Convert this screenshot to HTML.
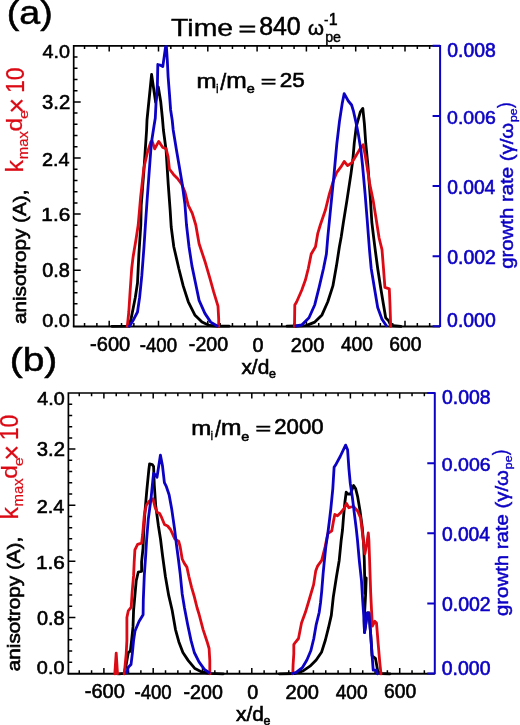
<!DOCTYPE html>
<html><head><meta charset="utf-8"><title>anisotropy plot</title>
<style>html,body{margin:0;padding:0;background:#fff;width:520px;height:725px;overflow:hidden}svg{display:block}text{font-family:"Liberation Sans", sans-serif}</style></head><body>
<svg width="520" height="725" viewBox="0 0 520 725">
<rect width="520" height="725" fill="#fff"/>
<g>
<path d="M73.7,45.8 H440.1 M73.7,45.0 V327.1" stroke="#000" stroke-width="1.7" fill="none"/>
<path d="M72.9,326.5 H440.1" stroke="#000" stroke-width="2.1" fill="none"/>
<path d="M84.55,326.3 v-3.3 M84.55,45.8 v3.3 M96.88,326.3 v-3.3 M96.88,45.8 v3.3 M109.20,326.3 v-5.6 M109.20,45.8 v5.6 M121.53,326.3 v-3.3 M121.53,45.8 v3.3 M133.85,326.3 v-3.3 M133.85,45.8 v3.3 M146.18,326.3 v-3.3 M146.18,45.8 v3.3 M158.50,326.3 v-5.6 M158.50,45.8 v5.6 M170.83,326.3 v-3.3 M170.83,45.8 v3.3 M183.15,326.3 v-3.3 M183.15,45.8 v3.3 M195.48,326.3 v-3.3 M195.48,45.8 v3.3 M207.80,326.3 v-5.6 M207.80,45.8 v5.6 M220.13,326.3 v-3.3 M220.13,45.8 v3.3 M232.45,326.3 v-3.3 M232.45,45.8 v3.3 M244.78,326.3 v-3.3 M244.78,45.8 v3.3 M257.10,326.3 v-5.6 M257.10,45.8 v5.6 M269.43,326.3 v-3.3 M269.43,45.8 v3.3 M281.75,326.3 v-3.3 M281.75,45.8 v3.3 M294.08,326.3 v-3.3 M294.08,45.8 v3.3 M306.40,326.3 v-5.6 M306.40,45.8 v5.6 M318.73,326.3 v-3.3 M318.73,45.8 v3.3 M331.05,326.3 v-3.3 M331.05,45.8 v3.3 M343.38,326.3 v-3.3 M343.38,45.8 v3.3 M355.70,326.3 v-5.6 M355.70,45.8 v5.6 M368.03,326.3 v-3.3 M368.03,45.8 v3.3 M380.35,326.3 v-3.3 M380.35,45.8 v3.3 M392.68,326.3 v-3.3 M392.68,45.8 v3.3 M405.00,326.3 v-5.6 M405.00,45.8 v5.6 M417.33,326.3 v-3.3 M417.33,45.8 v3.3 M429.65,326.3 v-3.3 M429.65,45.8 v3.3 M73.7,315.08 h3.8 M73.7,303.86 h3.8 M73.7,292.64 h3.8 M73.7,281.42 h3.8 M73.7,270.20 h7.0 M73.7,258.98 h3.8 M73.7,247.76 h3.8 M73.7,236.54 h3.8 M73.7,225.32 h3.8 M73.7,214.10 h7.0 M73.7,202.88 h3.8 M73.7,191.66 h3.8 M73.7,180.44 h3.8 M73.7,169.22 h3.8 M73.7,158.00 h7.0 M73.7,146.78 h3.8 M73.7,135.56 h3.8 M73.7,124.34 h3.8 M73.7,113.12 h3.8 M73.7,101.90 h7.0 M73.7,90.68 h3.8 M73.7,79.46 h3.8 M73.7,68.24 h3.8 M73.7,57.02 h3.8" stroke="#000" stroke-width="1.5" fill="none"/>
<path d="M440.1,45.0 V327.1 M440.1,326.30 h-7.5 M440.1,256.18 h-7.5 M440.1,186.05 h-7.5 M440.1,115.93 h-7.5 M440.1,45.80 h-7.5" stroke="#0c02c4" stroke-width="2.0" fill="none"/>
<text x="6.70" y="23.96" font-size="33.78" fill="#000" stroke="#000" stroke-width="0.5" textLength="45.99" lengthAdjust="spacingAndGlyphs">(a)</text>
<text x="9.67" y="371.14" font-size="33.78" fill="#000" stroke="#000" stroke-width="0.5" textLength="47.74" lengthAdjust="spacingAndGlyphs">(b)</text>
<text x="171.07" y="36.49" font-size="23.26" fill="#000" stroke="#000" stroke-width="0.4" textLength="62.11" lengthAdjust="spacingAndGlyphs">Time</text>
<text x="238.64" y="34.64" font-size="18.68" fill="#000" stroke="#000" stroke-width="0.6" textLength="17.69" lengthAdjust="spacingAndGlyphs">=</text>
<text x="259.17" y="35.40" font-size="25.19" fill="#000" stroke="#000" stroke-width="0.6" textLength="41.56" lengthAdjust="spacingAndGlyphs">840</text>
<text x="307.93" y="35.28" font-size="20.60" fill="#000" stroke="#000" stroke-width="0.6" textLength="15.94" lengthAdjust="spacingAndGlyphs">ω</text>
<text x="323.97" y="25.49" font-size="14.11" fill="#000" stroke="#000" stroke-width="0.3" textLength="4.49" lengthAdjust="spacingAndGlyphs">-</text>
<text x="328.76" y="24.63" font-size="15.91" fill="#000" stroke="#000" stroke-width="0.45" textLength="8.92" lengthAdjust="spacingAndGlyphs">1</text>
<text x="325.14" y="41.69" font-size="14.20" fill="#000" stroke="#000" stroke-width="0.45" textLength="15.77" lengthAdjust="spacingAndGlyphs">pe</text>
<text x="196.45" y="87.64" font-size="20.85" fill="#000" stroke="#000" stroke-width="0.6" textLength="20.06" lengthAdjust="spacingAndGlyphs">m</text>
<text x="215.91" y="92.57" font-size="13.49" fill="#000" stroke="#000" stroke-width="0.35" textLength="2.63" lengthAdjust="spacingAndGlyphs">i</text>
<text x="220.30" y="90.09" font-size="24.01" fill="#000" stroke="#000" stroke-width="0.6" textLength="5.96" lengthAdjust="spacingAndGlyphs">/</text>
<text x="226.33" y="87.85" font-size="21.62" fill="#000" stroke="#000" stroke-width="0.6" textLength="20.50" lengthAdjust="spacingAndGlyphs">m</text>
<text x="246.68" y="93.45" font-size="12.10" fill="#000" stroke="#000" stroke-width="0.55" textLength="7.99" lengthAdjust="spacingAndGlyphs">e</text>
<text x="260.81" y="86.65" font-size="17.12" fill="#000" stroke="#000" stroke-width="0.6" textLength="15.64" lengthAdjust="spacingAndGlyphs">=</text>
<text x="279.79" y="87.28" font-size="21.02" fill="#000" stroke="#000" stroke-width="0.6" textLength="25.06" lengthAdjust="spacingAndGlyphs">25</text>
<text x="42.52" y="57.53" font-size="19.24" fill="#000" stroke="#000" stroke-width="0.6" textLength="27.43" lengthAdjust="spacingAndGlyphs">4.0</text>
<text x="42.07" y="109.03" font-size="19.55" fill="#000" stroke="#000" stroke-width="0.6" textLength="28.22" lengthAdjust="spacingAndGlyphs">3.2</text>
<text x="42.02" y="165.71" font-size="19.16" fill="#000" stroke="#000" stroke-width="0.6" textLength="27.57" lengthAdjust="spacingAndGlyphs">2.4</text>
<text x="41.38" y="221.35" font-size="19.09" fill="#000" stroke="#000" stroke-width="0.6" textLength="28.83" lengthAdjust="spacingAndGlyphs">1.6</text>
<text x="42.19" y="277.46" font-size="19.30" fill="#000" stroke="#000" stroke-width="0.6" textLength="27.66" lengthAdjust="spacingAndGlyphs">0.8</text>
<text x="42.17" y="326.51" font-size="19.27" fill="#000" stroke="#000" stroke-width="0.6" textLength="27.61" lengthAdjust="spacingAndGlyphs">0.0</text>
<text x="447.26" y="56.68" font-size="19.61" fill="#0c02c4" stroke="#0c02c4" stroke-width="0.6" textLength="48.56" lengthAdjust="spacingAndGlyphs">0.008</text>
<text x="447.14" y="123.74" font-size="19.25" fill="#0c02c4" stroke="#0c02c4" stroke-width="0.6" textLength="48.74" lengthAdjust="spacingAndGlyphs">0.006</text>
<text x="447.19" y="193.86" font-size="19.38" fill="#0c02c4" stroke="#0c02c4" stroke-width="0.6" textLength="48.08" lengthAdjust="spacingAndGlyphs">0.004</text>
<text x="447.20" y="263.87" font-size="19.37" fill="#0c02c4" stroke="#0c02c4" stroke-width="0.6" textLength="48.75" lengthAdjust="spacingAndGlyphs">0.002</text>
<text x="447.10" y="327.44" font-size="19.66" fill="#0c02c4" stroke="#0c02c4" stroke-width="0.6" textLength="48.66" lengthAdjust="spacingAndGlyphs">0.000</text>
<text x="90.09" y="350.86" font-size="19.97" fill="#000" stroke="#000" stroke-width="0.6" textLength="40.09" lengthAdjust="spacingAndGlyphs">-600</text>
<text x="139.81" y="351.88" font-size="19.56" fill="#000" stroke="#000" stroke-width="0.6" textLength="37.22" lengthAdjust="spacingAndGlyphs">-400</text>
<text x="188.86" y="351.38" font-size="19.36" fill="#000" stroke="#000" stroke-width="0.6" textLength="39.26" lengthAdjust="spacingAndGlyphs">-200</text>
<text x="252.54" y="351.56" font-size="19.56" fill="#000" stroke="#000" stroke-width="0.6" textLength="10.97" lengthAdjust="spacingAndGlyphs">0</text>
<text x="290.89" y="351.83" font-size="19.44" fill="#000" stroke="#000" stroke-width="0.6" textLength="33.41" lengthAdjust="spacingAndGlyphs">200</text>
<text x="340.98" y="351.35" font-size="19.37" fill="#000" stroke="#000" stroke-width="0.6" textLength="31.84" lengthAdjust="spacingAndGlyphs">400</text>
<text x="389.21" y="351.27" font-size="19.69" fill="#000" stroke="#000" stroke-width="0.6" textLength="32.23" lengthAdjust="spacingAndGlyphs">600</text>
<text x="241.41" y="373.73" font-size="20.80" fill="#000" stroke="#000" stroke-width="0.6" textLength="27.87" lengthAdjust="spacingAndGlyphs">x/d</text>
<text x="268.91" y="377.71" font-size="12.24" fill="#000" stroke="#000" stroke-width="0.55" textLength="6.93" lengthAdjust="spacingAndGlyphs">e</text>
<text transform="translate(23.02,172.42) rotate(-90)" font-size="23.39" fill="#dc0a14" stroke="#dc0a14" stroke-width="0.25" textLength="12.57" lengthAdjust="spacingAndGlyphs">k</text>
<text transform="translate(28.23,159.24) rotate(-90)" font-size="13.81" fill="#dc0a14" stroke="#dc0a14" stroke-width="0.2" textLength="28.14" lengthAdjust="spacingAndGlyphs">max</text>
<text transform="translate(22.28,131.46) rotate(-90)" font-size="22.91" fill="#dc0a14" stroke="#dc0a14" stroke-width="0.25" textLength="13.67" lengthAdjust="spacingAndGlyphs">d</text>
<text transform="translate(27.82,118.96) rotate(-90)" font-size="13.60" fill="#dc0a14" stroke="#dc0a14" stroke-width="0.2" textLength="9.02" lengthAdjust="spacingAndGlyphs">e</text>
<text transform="translate(26.42,113.39) rotate(-90)" font-size="28.51" fill="#dc0a14" stroke="#dc0a14" stroke-width="0.25" textLength="15.59" lengthAdjust="spacingAndGlyphs">×</text>
<text transform="translate(23.55,93.10) rotate(-90)" font-size="24.93" fill="#dc0a14" stroke="#dc0a14" stroke-width="0.25" textLength="25.57" lengthAdjust="spacingAndGlyphs">10</text>
<text transform="translate(25.61,323.95) rotate(-90)" font-size="19.24" fill="#000" stroke="#000" stroke-width="0.6" textLength="134.36" lengthAdjust="spacingAndGlyphs">anisotropy (A),</text>
<text transform="translate(512.98,268.78) rotate(-90)" font-size="19.20" fill="#0c02c4" stroke="#0c02c4" stroke-width="0.5" textLength="145.98" lengthAdjust="spacingAndGlyphs">growth rate (γ/ω</text>
<text transform="translate(516.88,121.95) rotate(-90)" font-size="11.00" fill="#0c02c4" stroke="#0c02c4" stroke-width="0.35" textLength="13.61" lengthAdjust="spacingAndGlyphs">pe</text>
<text transform="translate(512.14,108.11) rotate(-90)" font-size="19.38" fill="#0c02c4" stroke="#0c02c4" stroke-width="0.35" textLength="5.54" lengthAdjust="spacingAndGlyphs">)</text>
</g>
<polyline points="112.0,326.3 128.8,326.2 131.0,319.2 135.3,297.5 137.5,283.0 138.9,254.0 140.8,225.0 141.2,205.4 143.9,170.4 146.6,130.0 147.0,120.0 151.6,74.5 153.7,89.0 155.6,102.0 158.3,87.0 160.7,101.4 162.4,118.0 163.4,130.0 166.1,150.2 168.2,183.8 170.2,210.8 171.2,227.0 173.8,246.7 178.8,268.5 183.2,285.9 188.3,301.8 194.8,314.9 202.0,322.1 209.3,325.5 216.0,326.0 229.0,326.2" fill="none" stroke="#000" stroke-width="2.8" stroke-linejoin="round" stroke-linecap="round"/>
<polyline points="287.0,326.2 296.0,326.0 306.1,325.6 314.8,322.1 322.0,314.9 327.8,301.8 332.9,285.9 336.5,265.6 339.4,246.7 341.2,237.0 343.3,223.0 346.9,200.6 351.0,173.6 352.8,160.0 354.3,142.7 356.3,126.5 360.4,111.7 362.8,108.4 364.4,123.8 365.8,144.0 367.8,164.2 368.5,173.6 370.5,200.6 371.8,222.0 373.6,237.0 374.8,246.7 377.7,268.5 380.6,287.3 383.5,304.7 385.7,317.8 388.6,320.7 390.7,325.5 401.0,326.3" fill="none" stroke="#000" stroke-width="2.8" stroke-linejoin="round" stroke-linecap="round"/>
<polyline points="127.3,326.3 128.8,312.0 130.2,290.2 131.7,268.5 133.1,256.9 136.0,239.5 138.2,225.0 140.6,197.3 143.9,167.7 147.3,152.9 150.7,142.1 152.0,140.8 154.7,148.8 158.7,141.4 162.8,147.5 166.1,148.8 168.1,156.9 169.4,169.0 173.5,174.4 177.5,178.5 181.5,183.8 184.9,191.9 188.3,205.4 192.3,213.4 195.8,225.0 199.1,243.8 204.9,261.2 210.0,278.6 213.6,291.7 218.0,306.2 218.7,319.2 218.7,326.3" fill="none" stroke="#dc0a14" stroke-width="2.8" stroke-linejoin="round" stroke-linecap="round"/>
<polyline points="294.5,326.3 294.8,305.0 296.7,301.8 301.7,290.2 305.4,280.1 308.3,268.5 311.2,254.0 315.5,246.7 317.7,233.7 320.3,225.0 325.4,210.0 329.4,193.8 333.5,180.4 336.8,172.3 340.9,166.9 344.2,161.5 347.6,165.6 351.6,162.9 355.7,156.2 359.7,149.4 363.1,144.7 365.1,154.8 367.1,166.9 369.8,184.4 373.2,200.6 376.3,220.0 379.1,238.0 382.0,249.6 383.5,268.5 384.9,287.3 389.3,288.8 390.0,304.7 390.7,326.3" fill="none" stroke="#dc0a14" stroke-width="2.8" stroke-linejoin="round" stroke-linecap="round"/>
<polyline points="129.5,326.2 133.8,319.2 137.5,312.0 139.6,297.5 141.8,275.7 144.0,246.7 145.4,225.0 147.3,197.3 149.3,170.4 151.3,143.5 154.0,126.0 155.3,118.0 156.1,101.4 157.4,84.8 157.8,64.5 159.9,65.0 162.8,66.6 165.6,46.6 166.4,46.6 167.3,60.0 168.1,76.6 169.4,93.1 170.6,109.7 172.2,120.0 173.2,130.0 176.5,150.2 179.5,167.7 182.2,183.8 184.9,204.0 186.5,225.0 189.0,246.7 191.9,265.6 195.5,283.0 199.1,300.4 204.9,313.4 210.7,322.1 217.2,326.0" fill="none" stroke="#0c02c4" stroke-width="2.8" stroke-linejoin="round" stroke-linecap="round"/>
<polyline points="296.0,326.0 301.7,325.0 309.0,317.8 314.8,304.7 319.1,287.3 323.5,268.5 326.4,254.0 327.8,237.0 331.4,200.6 334.1,173.6 336.8,144.0 339.5,121.1 342.2,103.6 344.2,93.6 348.3,101.0 351.6,105.0 353.6,111.7 355.7,121.1 358.4,134.6 361.0,150.8 362.5,165.0 365.1,193.8 367.2,220.0 368.5,237.0 369.5,250.0 371.2,268.5 374.8,290.2 377.7,307.6 382.0,319.2 386.4,325.7" fill="none" stroke="#0c02c4" stroke-width="2.8" stroke-linejoin="round" stroke-linecap="round"/>
<g transform="translate(-5.3,347.2)">
<path d="M73.7,45.8 H440.1 M73.7,45.0 V327.1" stroke="#000" stroke-width="1.7" fill="none"/>
<path d="M72.9,326.5 H440.1" stroke="#000" stroke-width="2.1" fill="none"/>
<path d="M84.55,326.3 v-3.3 M84.55,45.8 v3.3 M96.88,326.3 v-3.3 M96.88,45.8 v3.3 M109.20,326.3 v-5.6 M109.20,45.8 v5.6 M121.53,326.3 v-3.3 M121.53,45.8 v3.3 M133.85,326.3 v-3.3 M133.85,45.8 v3.3 M146.18,326.3 v-3.3 M146.18,45.8 v3.3 M158.50,326.3 v-5.6 M158.50,45.8 v5.6 M170.83,326.3 v-3.3 M170.83,45.8 v3.3 M183.15,326.3 v-3.3 M183.15,45.8 v3.3 M195.48,326.3 v-3.3 M195.48,45.8 v3.3 M207.80,326.3 v-5.6 M207.80,45.8 v5.6 M220.13,326.3 v-3.3 M220.13,45.8 v3.3 M232.45,326.3 v-3.3 M232.45,45.8 v3.3 M244.78,326.3 v-3.3 M244.78,45.8 v3.3 M257.10,326.3 v-5.6 M257.10,45.8 v5.6 M269.43,326.3 v-3.3 M269.43,45.8 v3.3 M281.75,326.3 v-3.3 M281.75,45.8 v3.3 M294.08,326.3 v-3.3 M294.08,45.8 v3.3 M306.40,326.3 v-5.6 M306.40,45.8 v5.6 M318.73,326.3 v-3.3 M318.73,45.8 v3.3 M331.05,326.3 v-3.3 M331.05,45.8 v3.3 M343.38,326.3 v-3.3 M343.38,45.8 v3.3 M355.70,326.3 v-5.6 M355.70,45.8 v5.6 M368.03,326.3 v-3.3 M368.03,45.8 v3.3 M380.35,326.3 v-3.3 M380.35,45.8 v3.3 M392.68,326.3 v-3.3 M392.68,45.8 v3.3 M405.00,326.3 v-5.6 M405.00,45.8 v5.6 M417.33,326.3 v-3.3 M417.33,45.8 v3.3 M429.65,326.3 v-3.3 M429.65,45.8 v3.3 M73.7,315.08 h3.8 M73.7,303.86 h3.8 M73.7,292.64 h3.8 M73.7,281.42 h3.8 M73.7,270.20 h7.0 M73.7,258.98 h3.8 M73.7,247.76 h3.8 M73.7,236.54 h3.8 M73.7,225.32 h3.8 M73.7,214.10 h7.0 M73.7,202.88 h3.8 M73.7,191.66 h3.8 M73.7,180.44 h3.8 M73.7,169.22 h3.8 M73.7,158.00 h7.0 M73.7,146.78 h3.8 M73.7,135.56 h3.8 M73.7,124.34 h3.8 M73.7,113.12 h3.8 M73.7,101.90 h7.0 M73.7,90.68 h3.8 M73.7,79.46 h3.8 M73.7,68.24 h3.8 M73.7,57.02 h3.8" stroke="#000" stroke-width="1.5" fill="none"/>
<path d="M440.1,45.0 V327.1 M440.1,326.30 h-7.5 M440.1,256.18 h-7.5 M440.1,186.05 h-7.5 M440.1,115.93 h-7.5 M440.1,45.80 h-7.5" stroke="#0c02c4" stroke-width="2.0" fill="none"/>
<text x="196.45" y="87.64" font-size="20.85" fill="#000" stroke="#000" stroke-width="0.6" textLength="20.06" lengthAdjust="spacingAndGlyphs">m</text>
<text x="215.91" y="92.57" font-size="13.49" fill="#000" stroke="#000" stroke-width="0.35" textLength="2.63" lengthAdjust="spacingAndGlyphs">i</text>
<text x="220.30" y="90.09" font-size="24.01" fill="#000" stroke="#000" stroke-width="0.6" textLength="5.96" lengthAdjust="spacingAndGlyphs">/</text>
<text x="226.33" y="87.85" font-size="21.62" fill="#000" stroke="#000" stroke-width="0.6" textLength="20.50" lengthAdjust="spacingAndGlyphs">m</text>
<text x="246.68" y="93.45" font-size="12.10" fill="#000" stroke="#000" stroke-width="0.55" textLength="7.99" lengthAdjust="spacingAndGlyphs">e</text>
<text x="260.81" y="86.65" font-size="17.12" fill="#000" stroke="#000" stroke-width="0.6" textLength="15.64" lengthAdjust="spacingAndGlyphs">=</text>
<text x="279.57" y="87.17" font-size="21.69" fill="#000" stroke="#000" stroke-width="0.6" textLength="49.38" lengthAdjust="spacingAndGlyphs">2000</text>
<text x="42.52" y="57.53" font-size="19.24" fill="#000" stroke="#000" stroke-width="0.6" textLength="27.43" lengthAdjust="spacingAndGlyphs">4.0</text>
<text x="42.07" y="109.03" font-size="19.55" fill="#000" stroke="#000" stroke-width="0.6" textLength="28.22" lengthAdjust="spacingAndGlyphs">3.2</text>
<text x="42.02" y="165.71" font-size="19.16" fill="#000" stroke="#000" stroke-width="0.6" textLength="27.57" lengthAdjust="spacingAndGlyphs">2.4</text>
<text x="41.38" y="221.35" font-size="19.09" fill="#000" stroke="#000" stroke-width="0.6" textLength="28.83" lengthAdjust="spacingAndGlyphs">1.6</text>
<text x="42.19" y="277.46" font-size="19.30" fill="#000" stroke="#000" stroke-width="0.6" textLength="27.66" lengthAdjust="spacingAndGlyphs">0.8</text>
<text x="42.17" y="326.51" font-size="19.27" fill="#000" stroke="#000" stroke-width="0.6" textLength="27.61" lengthAdjust="spacingAndGlyphs">0.0</text>
<text x="447.26" y="56.68" font-size="19.61" fill="#0c02c4" stroke="#0c02c4" stroke-width="0.6" textLength="48.56" lengthAdjust="spacingAndGlyphs">0.008</text>
<text x="447.14" y="123.74" font-size="19.25" fill="#0c02c4" stroke="#0c02c4" stroke-width="0.6" textLength="48.74" lengthAdjust="spacingAndGlyphs">0.006</text>
<text x="447.19" y="193.86" font-size="19.38" fill="#0c02c4" stroke="#0c02c4" stroke-width="0.6" textLength="48.08" lengthAdjust="spacingAndGlyphs">0.004</text>
<text x="447.20" y="263.87" font-size="19.37" fill="#0c02c4" stroke="#0c02c4" stroke-width="0.6" textLength="48.75" lengthAdjust="spacingAndGlyphs">0.002</text>
<text x="447.10" y="327.44" font-size="19.66" fill="#0c02c4" stroke="#0c02c4" stroke-width="0.6" textLength="48.66" lengthAdjust="spacingAndGlyphs">0.000</text>
<text x="90.09" y="350.86" font-size="19.97" fill="#000" stroke="#000" stroke-width="0.6" textLength="40.09" lengthAdjust="spacingAndGlyphs">-600</text>
<text x="139.81" y="351.88" font-size="19.56" fill="#000" stroke="#000" stroke-width="0.6" textLength="37.22" lengthAdjust="spacingAndGlyphs">-400</text>
<text x="188.86" y="351.38" font-size="19.36" fill="#000" stroke="#000" stroke-width="0.6" textLength="39.26" lengthAdjust="spacingAndGlyphs">-200</text>
<text x="252.54" y="351.56" font-size="19.56" fill="#000" stroke="#000" stroke-width="0.6" textLength="10.97" lengthAdjust="spacingAndGlyphs">0</text>
<text x="290.89" y="351.83" font-size="19.44" fill="#000" stroke="#000" stroke-width="0.6" textLength="33.41" lengthAdjust="spacingAndGlyphs">200</text>
<text x="340.98" y="351.35" font-size="19.37" fill="#000" stroke="#000" stroke-width="0.6" textLength="31.84" lengthAdjust="spacingAndGlyphs">400</text>
<text x="389.21" y="351.27" font-size="19.69" fill="#000" stroke="#000" stroke-width="0.6" textLength="32.23" lengthAdjust="spacingAndGlyphs">600</text>
<text x="241.41" y="373.73" font-size="20.80" fill="#000" stroke="#000" stroke-width="0.6" textLength="27.87" lengthAdjust="spacingAndGlyphs">x/d</text>
<text x="268.91" y="377.71" font-size="12.24" fill="#000" stroke="#000" stroke-width="0.55" textLength="6.93" lengthAdjust="spacingAndGlyphs">e</text>
<text transform="translate(23.02,172.42) rotate(-90)" font-size="23.39" fill="#dc0a14" stroke="#dc0a14" stroke-width="0.25" textLength="12.57" lengthAdjust="spacingAndGlyphs">k</text>
<text transform="translate(28.23,159.24) rotate(-90)" font-size="13.81" fill="#dc0a14" stroke="#dc0a14" stroke-width="0.2" textLength="28.14" lengthAdjust="spacingAndGlyphs">max</text>
<text transform="translate(22.28,131.46) rotate(-90)" font-size="22.91" fill="#dc0a14" stroke="#dc0a14" stroke-width="0.25" textLength="13.67" lengthAdjust="spacingAndGlyphs">d</text>
<text transform="translate(27.82,118.96) rotate(-90)" font-size="13.60" fill="#dc0a14" stroke="#dc0a14" stroke-width="0.2" textLength="9.02" lengthAdjust="spacingAndGlyphs">e</text>
<text transform="translate(26.42,113.39) rotate(-90)" font-size="28.51" fill="#dc0a14" stroke="#dc0a14" stroke-width="0.25" textLength="15.59" lengthAdjust="spacingAndGlyphs">×</text>
<text transform="translate(23.55,93.10) rotate(-90)" font-size="24.93" fill="#dc0a14" stroke="#dc0a14" stroke-width="0.25" textLength="25.57" lengthAdjust="spacingAndGlyphs">10</text>
<text transform="translate(25.61,323.95) rotate(-90)" font-size="19.24" fill="#000" stroke="#000" stroke-width="0.6" textLength="134.36" lengthAdjust="spacingAndGlyphs">anisotropy (A),</text>
<text transform="translate(512.98,268.78) rotate(-90)" font-size="19.20" fill="#0c02c4" stroke="#0c02c4" stroke-width="0.5" textLength="145.98" lengthAdjust="spacingAndGlyphs">growth rate (γ/ω</text>
<text transform="translate(516.88,121.95) rotate(-90)" font-size="11.00" fill="#0c02c4" stroke="#0c02c4" stroke-width="0.35" textLength="13.61" lengthAdjust="spacingAndGlyphs">pe</text>
<text transform="translate(512.14,108.11) rotate(-90)" font-size="19.38" fill="#0c02c4" stroke="#0c02c4" stroke-width="0.35" textLength="5.54" lengthAdjust="spacingAndGlyphs">)</text>
</g>
<polyline points="118.8,673.8 124.2,673.4 126.2,664.6 128.3,652.5 130.3,651.1 131.6,640.4 133.0,626.9 133.6,610.0 134.9,595.6 136.2,580.8 138.3,572.0 141.6,571.3 141.6,561.9 143.0,548.5 143.8,530.0 144.9,512.3 146.9,489.4 148.9,469.2 149.6,463.8 152.3,464.5 153.6,466.5 154.3,485.4 155.7,505.6 158.4,525.8 160.5,539.0 162.6,556.0 165.4,576.5 168.7,595.4 172.1,610.0 175.5,629.6 178.8,641.7 182.9,652.5 188.3,660.6 195.0,668.6 201.7,672.0 209.8,673.4 223.3,673.8" fill="none" stroke="#000" stroke-width="2.8" stroke-linejoin="round" stroke-linecap="round"/>
<polyline points="279.2,673.8 294.6,673.5 303.1,670.8 310.0,666.2 316.2,660.0 321.5,652.3 325.4,640.0 328.5,627.7 331.3,615.4 333.3,597.0 336.5,576.5 339.2,560.4 341.2,540.2 342.5,530.0 343.6,515.8 344.9,502.3 346.2,492.2 348.3,494.2 350.3,494.2 353.6,485.5 355.7,488.8 357.7,496.9 360.0,510.6 362.2,526.9 363.6,543.1 364.3,560.0 365.0,593.5 366.2,578.0 365.6,595.0 364.1,621.0 364.5,632.5 367.4,613.0 369.0,613.0 370.7,634.5 372.1,656.0 375.5,658.5 377.8,671.5 381.0,673.5 390.0,673.8" fill="none" stroke="#000" stroke-width="2.8" stroke-linejoin="round" stroke-linecap="round"/>
<polyline points="114.8,673.8 116.2,653.2 117.5,673.8" fill="none" stroke="#dc0a14" stroke-width="2.8" stroke-linejoin="round" stroke-linecap="round"/>
<polyline points="124.2,673.8 124.9,667.3 126.2,653.8 126.9,640.4 126.9,617.5 128.3,610.8 131.2,607.2 132.2,591.5 133.6,575.4 134.2,561.9 134.9,549.8 137.6,544.4 141.6,543.1 142.6,535.0 144.2,516.3 146.2,505.6 148.9,501.5 153.0,498.8 155.0,506.9 157.0,512.3 159.7,513.6 161.7,517.7 164.5,524.5 167.6,526.0 170.5,529.5 174.8,538.8 178.8,541.5 180.2,546.9 182.2,559.0 184.2,563.1 186.9,567.1 188.9,576.5 191.6,587.3 194.3,596.7 197.0,607.5 199.0,614.0 203.1,629.6 207.1,641.7 209.1,648.5 209.8,660.6 209.8,673.8" fill="none" stroke="#dc0a14" stroke-width="2.8" stroke-linejoin="round" stroke-linecap="round"/>
<polyline points="292.8,673.8 293.1,664.6 293.8,653.8 293.8,644.6 295.4,642.3 298.5,638.5 300.0,630.8 301.5,623.1 305.4,612.3 309.4,599.0 313.6,584.6 315.7,571.1 317.7,565.8 321.7,560.4 325.1,546.9 327.8,533.5 331.8,530.8 333.5,521.1 334.8,514.4 337.5,515.8 340.9,512.4 344.2,508.4 346.5,503.5 348.9,507.7 351.0,507.0 353.5,506.5 357.6,511.0 360.6,518.0 362.2,531.0 363.6,543.1 364.9,553.8 366.9,543.1 368.3,533.0 368.9,540.4 369.6,560.6 370.7,593.1 371.5,609.7 372.4,626.2 374.8,621.3 376.5,622.9 378.1,642.8 379.8,662.6 381.0,673.8" fill="none" stroke="#dc0a14" stroke-width="2.8" stroke-linejoin="round" stroke-linecap="round"/>
<polyline points="126.9,672.7 128.3,667.3 131.0,664.6 132.3,653.8 133.6,640.4 135.0,631.0 139.0,621.5 143.1,614.8 143.3,600.0 144.3,575.4 145.7,555.2 146.6,540.0 148.3,519.0 151.0,498.8 153.0,478.6 153.6,473.3 155.7,475.3 157.0,477.3 160.4,455.1 162.4,465.2 164.4,482.7 166.4,486.7 169.1,494.8 171.8,509.6 174.5,528.4 176.5,545.0 178.5,560.0 180.2,573.8 182.2,594.0 184.5,608.0 187.6,624.2 191.0,640.4 194.3,652.5 199.0,661.9 204.4,669.3 209.1,672.7" fill="none" stroke="#0c02c4" stroke-width="2.8" stroke-linejoin="round" stroke-linecap="round"/>
<polyline points="292.3,673.5 296.2,672.3 302.3,667.7 306.9,660.0 310.8,650.8 313.8,638.5 316.2,624.6 319.2,612.3 320.5,603.0 321.7,591.3 323.1,573.8 324.4,560.4 325.8,546.9 327.8,533.5 329.5,520.0 330.8,509.0 332.8,488.8 334.1,467.3 336.2,463.9 340.2,456.5 345.6,445.1 347.6,449.8 348.9,468.6 350.3,483.5 352.3,496.9 354.3,513.1 356.3,529.2 357.5,540.4 359.3,560.6 361.5,580.8 362.7,600.7 364.1,621.0 364.5,632.5 367.4,613.0 369.0,613.0 370.7,634.5 372.4,659.3 373.2,670.1 376.5,670.1 377.3,673.8" fill="none" stroke="#0c02c4" stroke-width="2.8" stroke-linejoin="round" stroke-linecap="round"/>
</svg></body></html>
